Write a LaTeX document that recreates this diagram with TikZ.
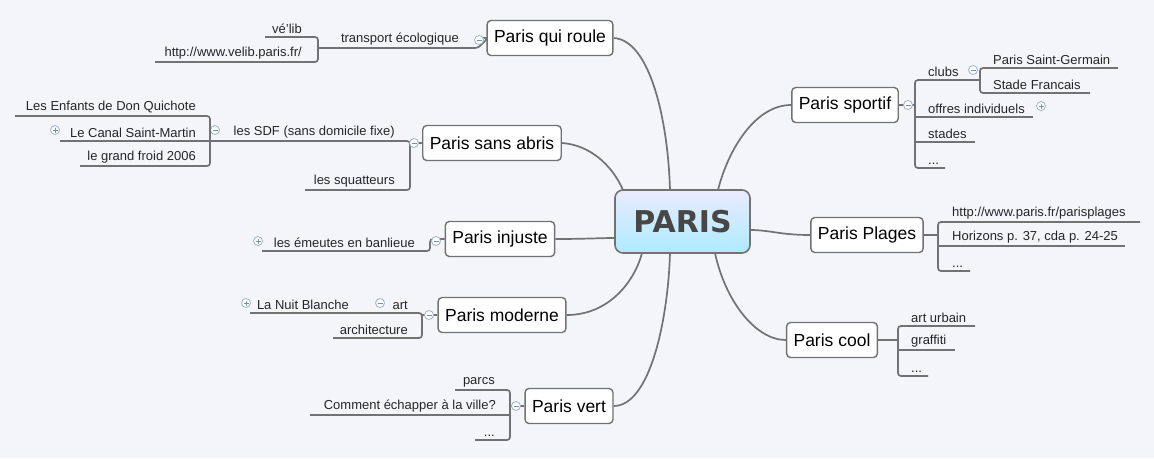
\documentclass[tikz,border=0pt]{standalone}
\usepackage{fontspec}
\setmainfont{Liberation Sans}
\usetikzlibrary{calc}
\definecolor{bg}{HTML}{F3F5F8}
\definecolor{ln}{HTML}{727272}
\definecolor{ic}{HTML}{9FB3C8}
\tikzset{
 lnk/.style={draw=ln,line width=1.7pt,rounded corners=3pt},
 crv/.style={draw=ln,line width=1.7pt},
 topic/.style={draw=ln,line width=1.4pt,fill=white,rounded corners=4pt,font=\fontsize{17.5}{19}\selectfont,inner xsep=7pt,minimum height=35pt},
 leaf/.style={font=\fontsize{13}{15}\selectfont,inner sep=1pt,text=black!85},
 icon/.style={circle,draw=ic,line width=0.8pt,fill=white,minimum size=9pt,inner sep=0pt}
}
\newcommand\mn[2]{\node[icon] (#1) at (#2) {}; \draw[ic!80!black,line width=0.8pt] ($(#1)+(-2.5pt,0)$)--($(#1)+(2.5pt,0)$);}
\newcommand\pl[2]{\mn{#1}{#2}\draw[ic!80!black,line width=0.8pt] ($(#1)+(0,-2.5pt)$)--($(#1)+(0,2.5pt)$);}
\begin{document}
\begin{tikzpicture}[x=1pt,y=-1pt]
\fill[bg] (0,0) rectangle (1154,458);
\useasboundingbox (0,0) rectangle (1154,458);
% central
\shade[top color=blue!8!white,bottom color=blue!25!cyan!32!white,rounded corners=8pt] (615,190) rectangle (750,253);
\node[draw=ln,line width=1.6pt,rounded corners=8pt,minimum width=135pt,minimum height=63pt,font=\fontsize{30}{32}\selectfont\fontspec{DejaVu Sans}\bfseries,text=black!72] (paris) at (682.5,221.5) {PARIS};
% topics
\node[topic] (qr) at (550,38) {Paris qui roule};
\node[topic] (sa) at (492,143) {Paris sans abris};
\node[topic] (inj) at (500,239) {Paris injuste};
\node[topic] (mod) at (502,315) {Paris moderne};
\node[topic] (ver) at (569,406) {Paris vert};
\node[topic] (spo) at (845,105) {Paris sportif};
\node[topic] (pla) at (867,235) {Paris Plages};
\node[topic] (coo) at (832,340) {Paris cool};
% central curves
\coordinate (t1) at (623,190); \coordinate (t2) at (670,190); \coordinate (t3) at (718,190);
\coordinate (b1) at (642,253); \coordinate (b2) at (670,253); \coordinate (b3) at (715,253);
\coordinate (l1) at (615,238); \coordinate (r1) at (750,230);
\draw[crv] (qr.east) .. controls (650,40) and (668,120) .. (t2);
\draw[crv] (sa.east) .. controls (590,145) and (612,165) .. (t1);
\draw[crv] (inj.east) .. controls (585,239) and (600,238) .. (l1);
\draw[crv] (mod.east) .. controls (610,315) and (635,280) .. (b1);
\draw[crv] (ver.east) .. controls (650,406) and (668,320) .. (b2);
\draw[crv] (spo.west) .. controls (755,105) and (728,150) .. (t3);
\draw[crv] (pla.west) .. controls (780,235) and (770,230) .. (r1);
\draw[crv] (coo.west) .. controls (755,340) and (725,300) .. (b3);
% ---- Paris qui roule
\draw[lnk] (qr.west) -- (488,38) -- (478,48) -- (318,48);
\mn{m1}{479,40}
\draw[lnk] (265,37) -- (318,37) -- (318,62) -- (155,62);
\node[leaf,anchor=south east] (te) at (460,46) {transport écologique};
\node[leaf,anchor=south east] (vl) at (303,35) {vé'lib};
\node[leaf,anchor=south east] (vu) at (303,60) {http://www.velib.paris.fr/};
% ---- Paris sans abris
\draw[lnk] (sa.west) -- (410,143);
\draw[lnk] (210,141) -- (410,141) -- (410,190) -- (305,190);
\mn{m2}{414,143}
\node[leaf,anchor=south east] (sdf) at (396,139) {les SDF (sans domicile fixe)};
\mn{m3}{215,130}
\node[leaf,anchor=south east] (squ) at (396,188) {les squatteurs};
\draw[lnk] (15,116) -- (210,116) -- (210,166) -- (80,166);
\draw[lnk] (60,141) -- (210,141);
\node[leaf,anchor=south east] (enf) at (197,114) {Les Enfants de Don Quichote};
\node[leaf,anchor=south east] (can) at (197,139) {Le Canal Saint-Martin};
\pl{p1}{55,130}
\node[leaf,anchor=south east] (gf) at (197,164) {le grand froid 2006};
% ---- Paris injuste
\draw[lnk] (inj.west) -- (430,239) -- (430,251) -- (262,251);
\mn{m4}{436,241}
\node[leaf,anchor=south east] (eme) at (416,249) {les émeutes en banlieue};
\pl{p2}{258,241}
% ---- Paris moderne
\draw[lnk] (mod.west) -- (422,315);
\draw[lnk] (250,313) -- (422,313) -- (422,338) -- (333,338);
\mn{m5}{429,315}
\node[leaf,anchor=south east] (art) at (409,311) {art};
\mn{m6}{380,303}
\node[leaf,anchor=south east] (nb) at (350,311) {La Nuit Blanche};
\pl{p3}{246,303}
\node[leaf,anchor=south east] (arc) at (409,336) {architecture};
% ---- Paris vert
\draw[lnk] (ver.west) -- (510,406);
\draw[lnk] (455,390) -- (510,390) -- (510,440) -- (475,440);
\draw[lnk] (310,415) -- (510,415);
\mn{m7}{516,406}
\node[leaf,anchor=south east] (par) at (496,388) {parcs};
\node[leaf,anchor=south east] (com) at (497,413) {Comment échapper à la ville?};
\node[leaf,anchor=south east] (dv) at (496,438) {...};
% ---- Paris sportif
\draw[lnk] (spo.east) -- (915,105);
\draw[lnk] (970,80) -- (915,80) -- (915,168) -- (945,168);
\draw[lnk] (915,117) -- (1033,117);
\draw[lnk] (915,142) -- (975,142);
\mn{m8}{908,105}
\node[leaf,anchor=south west] (clu) at (927,78) {clubs};
\draw[lnk] (970,80) -- (980,80);
\draw[lnk] (1118,68) -- (980,68) -- (980,93) -- (1090,93);
\mn{m9}{973,70}
\node[leaf,anchor=south west] (psg) at (992,66) {Paris Saint-Germain};
\node[leaf,anchor=south west] (sf) at (992,91) {Stade Francais};
\node[leaf,anchor=south west] (off) at (927,115) {offres individuels};
\pl{p4}{1041,106}
\node[leaf,anchor=south west] (sta) at (927,140) {stades};
\node[leaf,anchor=south west] (ds) at (927,166) {...};
% ---- Paris Plages
\draw[lnk] (pla.east) -- (938,235);
\draw[lnk] (1140,222) -- (938,222) -- (938,271) -- (970,271);
\draw[lnk] (938,246) -- (1125,246);
\node[leaf,anchor=south west] (pp) at (951,220) {http://www.paris.fr/parisplages};
\node[leaf,anchor=south west] (hor) at (951,244) {Horizons p. 37, cda p. 24-25};
\node[leaf,anchor=south west] (dp) at (951,269) {...};
% ---- Paris cool
\draw[lnk] (coo.east) -- (898,340);
\draw[lnk] (975,326) -- (898,326) -- (898,376) -- (928,376);
\draw[lnk] (898,350) -- (955,350);
\node[leaf,anchor=south west] (au) at (910,324) {art urbain};
\node[leaf,anchor=south west] (gr) at (910,348) {graffiti};
\node[leaf,anchor=south west] (dc) at (910,374) {...};
\end{tikzpicture}
\end{document}
